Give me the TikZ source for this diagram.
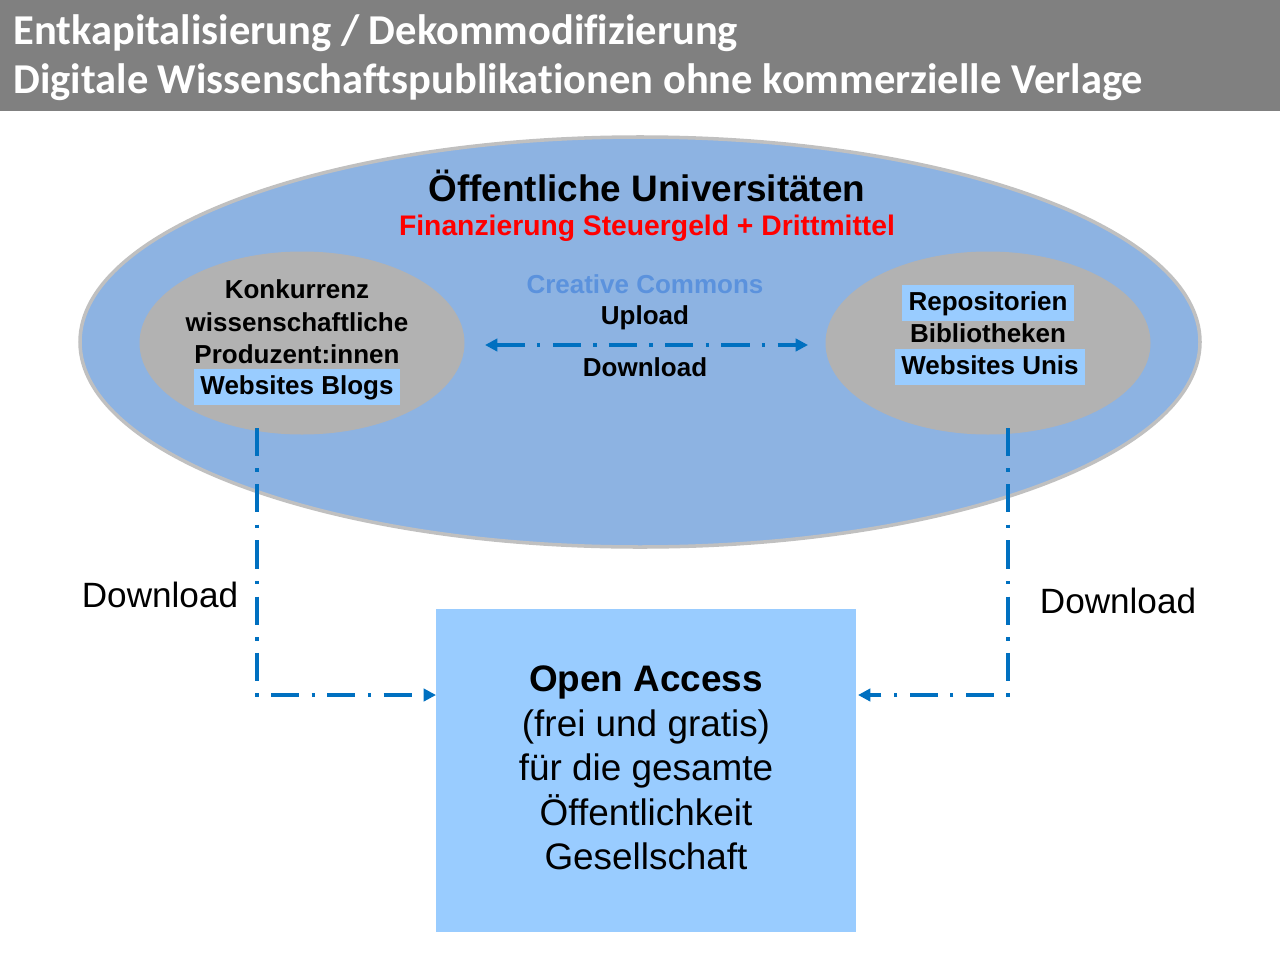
\documentclass[tikz,border=0pt]{standalone}
\usepackage{fontspec}
\setmainfont{Liberation Sans}
\newfontfamily\calibri[Ligatures=NoCommon]{Carlito}
\usetikzlibrary{shapes.geometric,arrows.meta}
\definecolor{barcol}{RGB}{128,128,128}
\definecolor{bigfill}{RGB}{141,179,226}
\definecolor{bigline}{RGB}{192,192,192}
\definecolor{smallfill}{RGB}{178,178,178}
\definecolor{hlcol}{RGB}{153,204,255}
\definecolor{conncol}{RGB}{0,112,192}
\definecolor{cccol}{RGB}{91,146,221}
\definecolor{redtxt}{RGB}{255,0,0}
\tikzset{
  bigell/.style={ellipse, fill=bigfill, draw=bigline, line width=2pt, inner sep=0pt},
  smallell/.style={ellipse, fill=smallfill, inner sep=0pt, minimum width=325*0.02cm, minimum height=183*0.02cm},
  ln/.style={anchor=base, inner sep=0pt},
  small/.style={ln, font=\fontsize{14.8}{17}\selectfont\bfseries},
  hl/.style={small, fill=hlcol, inner xsep=3.5pt, text height=14.5pt, text depth=6pt},
  boxtxt/.style={ln, font=\fontsize{21}{25}\selectfont},
  dl/.style={ln, font=\fontsize{20}{24}\selectfont},
  tip/.style={},
  conn/.style={draw=conncol, line width=2.3pt, dash pattern=on 16pt off 7pt on 2pt off 7pt, arrows={-Triangle[length=7pt,width=7pt]}},
  titletxt/.style={ln, anchor=base west, text=white, font=\fontsize{24.2}{28}\selectfont\calibri\bfseries},
}
\begin{document}
\begin{tikzpicture}[x=0.02cm,y=-0.02cm]
\useasboundingbox (0,0) rectangle (1280,960);
% title bar
\fill[barcol] (0,0) rectangle (1280,111);
\node[titletxt] (t1) at (13,44) {Entkapitalisierung / Dekommodifizierung};
\node[titletxt] (t2) at (13,93) {Digitale Wissenschaftspublikationen ohne kommerzielle Verlage};
% big ellipse
\node[bigell, minimum width=1120*0.02cm, minimum height=410*0.02cm] (uni) at (640,342) {};
\node[ln, font=\fontsize{21}{24}\selectfont\bfseries] (unit) at (647,201) {Öffentliche Universitäten};
\node[ln, text=redtxt, font=\fontsize{16.1}{19}\selectfont\bfseries] (fin) at (647,235) {Finanzierung Steuergeld + Drittmittel};
% small ellipses
\node[smallell] (prod) at (302,343) {};
\node[smallell] (repo) at (988,343) {};
\node[small] (p1) at (297,298) {Konkurrenz};
\node[small] (p2) at (297,331) {wissenschaftliche};
\node[small] (p3) at (297,363) {Produzent:innen};
\node[hl] (p4) at (297,394) {Websites Blogs};
\node[hl] (r1) at (988,310) {Repositorien};
\node[small] (r2) at (988,342) {Bibliotheken};
\node[hl] (r3) at (990,374) {Websites Unis};
% middle
\node[small, text=cccol] (cc) at (645,293) {Creative Commons};
\node[small] (up) at (645,324) {Upload};
\node[small] (down) at (645,376) {Download};
\coordinate (ma) at (485,345);
\coordinate (mb) at (808,345);
\draw[conn, arrows={Triangle[length=7pt,width=7pt]-Triangle[length=7pt,width=7pt]}] (ma) -- (mb);
% open access box
\node[fill=hlcol, minimum width=420*0.02cm, minimum height=323*0.02cm, inner sep=0pt] (oa) at (646,770.5) {};
\node[boxtxt, font=\fontsize{21}{25}\selectfont\bfseries] (o1) at (646,691) {Open Access};
\node[boxtxt] (o2) at (646,736) {(frei und gratis)};
\node[boxtxt] (o3) at (646,780) {für die gesamte};
\node[boxtxt] (o4) at (646,825) {Öffentlichkeit};
\node[boxtxt] (o5) at (646,869) {Gesellschaft};
% connectors
\coordinate (ls) at (257,428);
\coordinate (le) at (436,695);
\coordinate (rs) at (1008,428);
\coordinate (re) at (858,695);
\draw[conn] (ls) |- (le);
\draw[conn] (rs) |- (re);
\node[dl] (dll) at (160,607) {Download};
\node[dl] (dlr) at (1118,613) {Download};
\end{tikzpicture}
\end{document}
